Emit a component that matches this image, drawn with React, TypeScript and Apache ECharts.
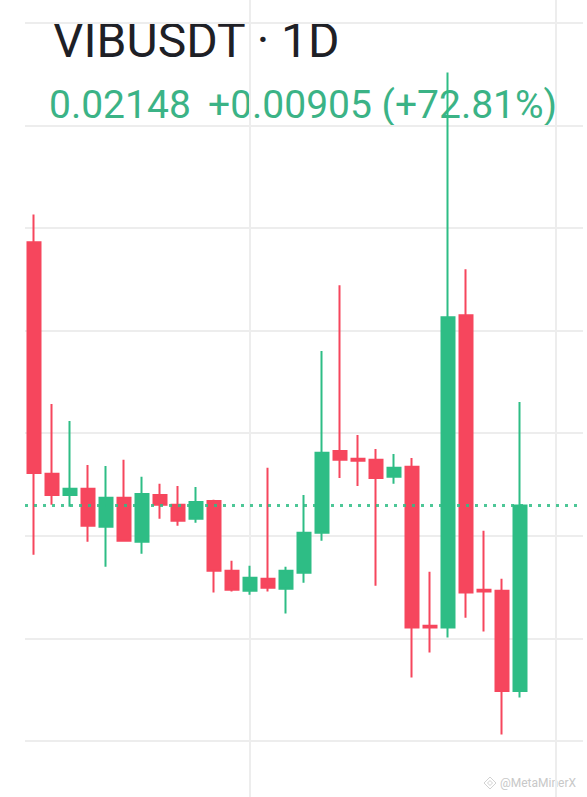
import React, { useEffect, useRef } from "react";
import * as echarts from "echarts";

const days = ["1","2","3","4","5","6","7","8","9","10","11","12","13","14","15","16","17","18","19","20","21","22","23","24","25","26","27","28","29","30","31"];

const opens = [0.03430, 0.02302, 0.02199, 0.02229, 0.02044, 0.02185, 0.01971, 0.02199, 0.02151, 0.02083, 0.02170, 0.01830, 0.01732, 0.01791, 0.01742, 0.01820, 0.02015, 0.02413, 0.02375, 0.02370, 0.02287, 0.02336, 0.01562, 0.01553, 0.03075, 0.01737, 0.01732, 0.01243];
const closes = [0.02306, 0.02199, 0.02229, 0.02049, 0.02185, 0.01976, 0.02204, 0.02151, 0.02073, 0.02165, 0.01830, 0.01737, 0.01796, 0.01747, 0.01830, 0.02015, 0.02404, 0.02370, 0.02365, 0.02282, 0.02331, 0.01553, 0.01553, 0.03065, 0.01723, 0.01728, 0.01243, 0.02148];
const lows = [0.01908, 0.02151, 0.02141, 0.01971, 0.01849, 0.01975, 0.01912, 0.02083, 0.02049, 0.02063, 0.01723, 0.01728, 0.01713, 0.01728, 0.01621, 0.01771, 0.01976, 0.02282, 0.02243, 0.01757, 0.02253, 0.01309, 0.01431, 0.01504, 0.01601, 0.01533, 0.01032, 0.01212];
const highs = [0.03566, 0.02642, 0.02559, 0.02345, 0.02340, 0.02370, 0.02287, 0.02253, 0.02243, 0.02238, 0.02175, 0.01878, 0.01854, 0.02331, 0.01849, 0.02199, 0.02900, 0.03221, 0.02491, 0.02423, 0.02399, 0.02379, 0.01825, 0.04257, 0.03299, 0.02024, 0.01791, 0.02652];

const gridPrices = [0.010, 0.015, 0.020, 0.025, 0.030, 0.035, 0.040, 0.045];
const priceMin = 0.007271;
const priceMax = 0.046106;

const lastPrice = 0.02148;
const verticalMarks = ["13", "30"];
const titleText = "VIBUSDT · 1D";
const priceText = "0.02148";
const changeText = "+0.00905 (+72.81%)";
const watermarkText = "@MetaMinerX";

const UP = "#2EBD85";
const DOWN = "#F6465D";
const GRIDC = "#EDEDED";

export default function App() {
  const ref = useRef<HTMLDivElement>(null);
  useEffect(() => {
    const chart = echarts.init(ref.current as HTMLDivElement, null, { renderer: "svg" });
    const data = opens.map((o, i) => [o, closes[i], lows[i], highs[i]]);
    const textStyle = (text: string, fill: string, fontSize: number) => ({
      text,
      fill,
      fontSize,
      fontFamily: "Roboto",
      align: "left",
      verticalAlign: "middle",
      textAlign: "left",
      textVerticalAlign: "middle",
    });
    chart.setOption({
      animation: false,
      backgroundColor: "#ffffff",
      grid: { left: 25, right: 4, top: 0, bottom: 0 },
      xAxis: {
        type: "category",
        data: days,
        boundaryGap: true,
        axisLine: { show: false },
        axisTick: { show: false },
        axisLabel: { show: false },
        splitLine: { show: false },
      },
      yAxis: {
        type: "value",
        min: priceMin,
        max: priceMax,
        axisLine: { show: false },
        axisTick: { show: false },
        axisLabel: { show: false },
        splitLine: { show: false },
      },
      series: [
        {
          type: "line",
          data: [],
          z: 0,
          silent: true,
          markLine: {
            silent: true,
            z: 0,
            precision: 6,
            symbol: "none",
            label: { show: false },
            lineStyle: { color: GRIDC, width: 2, type: "solid" },
            data: [
              ...verticalMarks.map((d) => ({ xAxis: d })),
              ...gridPrices.map((p) => ({ yAxis: p })),
            ],
          },
        },
        {
          type: "candlestick",
          data,
          barWidth: 13,
          z: 2,
          itemStyle: {
            color: UP,
            color0: DOWN,
            borderColor: UP,
            borderColor0: DOWN,
            borderWidth: 2,
          },
          markLine: {
            silent: true,
            precision: 6,
            symbol: "none",
            label: { show: false },
            data: [
              {
                yAxis: lastPrice,
                lineStyle: { color: UP, width: 3, type: [3, 6], opacity: 0.85 },
              },
            ],
          },
        },
      ],
      graphic: [
        { type: "text", x: 53, y: 40, style: textStyle(titleText, "#1E2026", 48) },
        { type: "text", x: 49, y: 105, style: textStyle(priceText, "#3BB386", 39) },
        { type: "text", x: 208, y: 105, style: textStyle(changeText, "#3BB386", 39) },
        {
          type: "polygon",
          shape: { points: [[490, 777], [496, 783], [490, 789], [484, 783]] },
          style: { fill: "none", stroke: "#D2D2D2", lineWidth: 1 },
        },
        {
          type: "polygon",
          shape: { points: [[490, 780.5], [492.5, 783], [490, 785.5], [487.5, 783]] },
          style: { fill: "none", stroke: "#D2D2D2", lineWidth: 1 },
        },
        { type: "text", x: 500, y: 783, style: textStyle(watermarkText, "#C8C8C8", 12) },
      ],
    });
    return () => chart.dispose();
  }, []);
  return (
    <div
      ref={ref}
      style={{ position: "fixed", left: 0, top: 0, width: 587, height: 797 }}
    />
  );
}
